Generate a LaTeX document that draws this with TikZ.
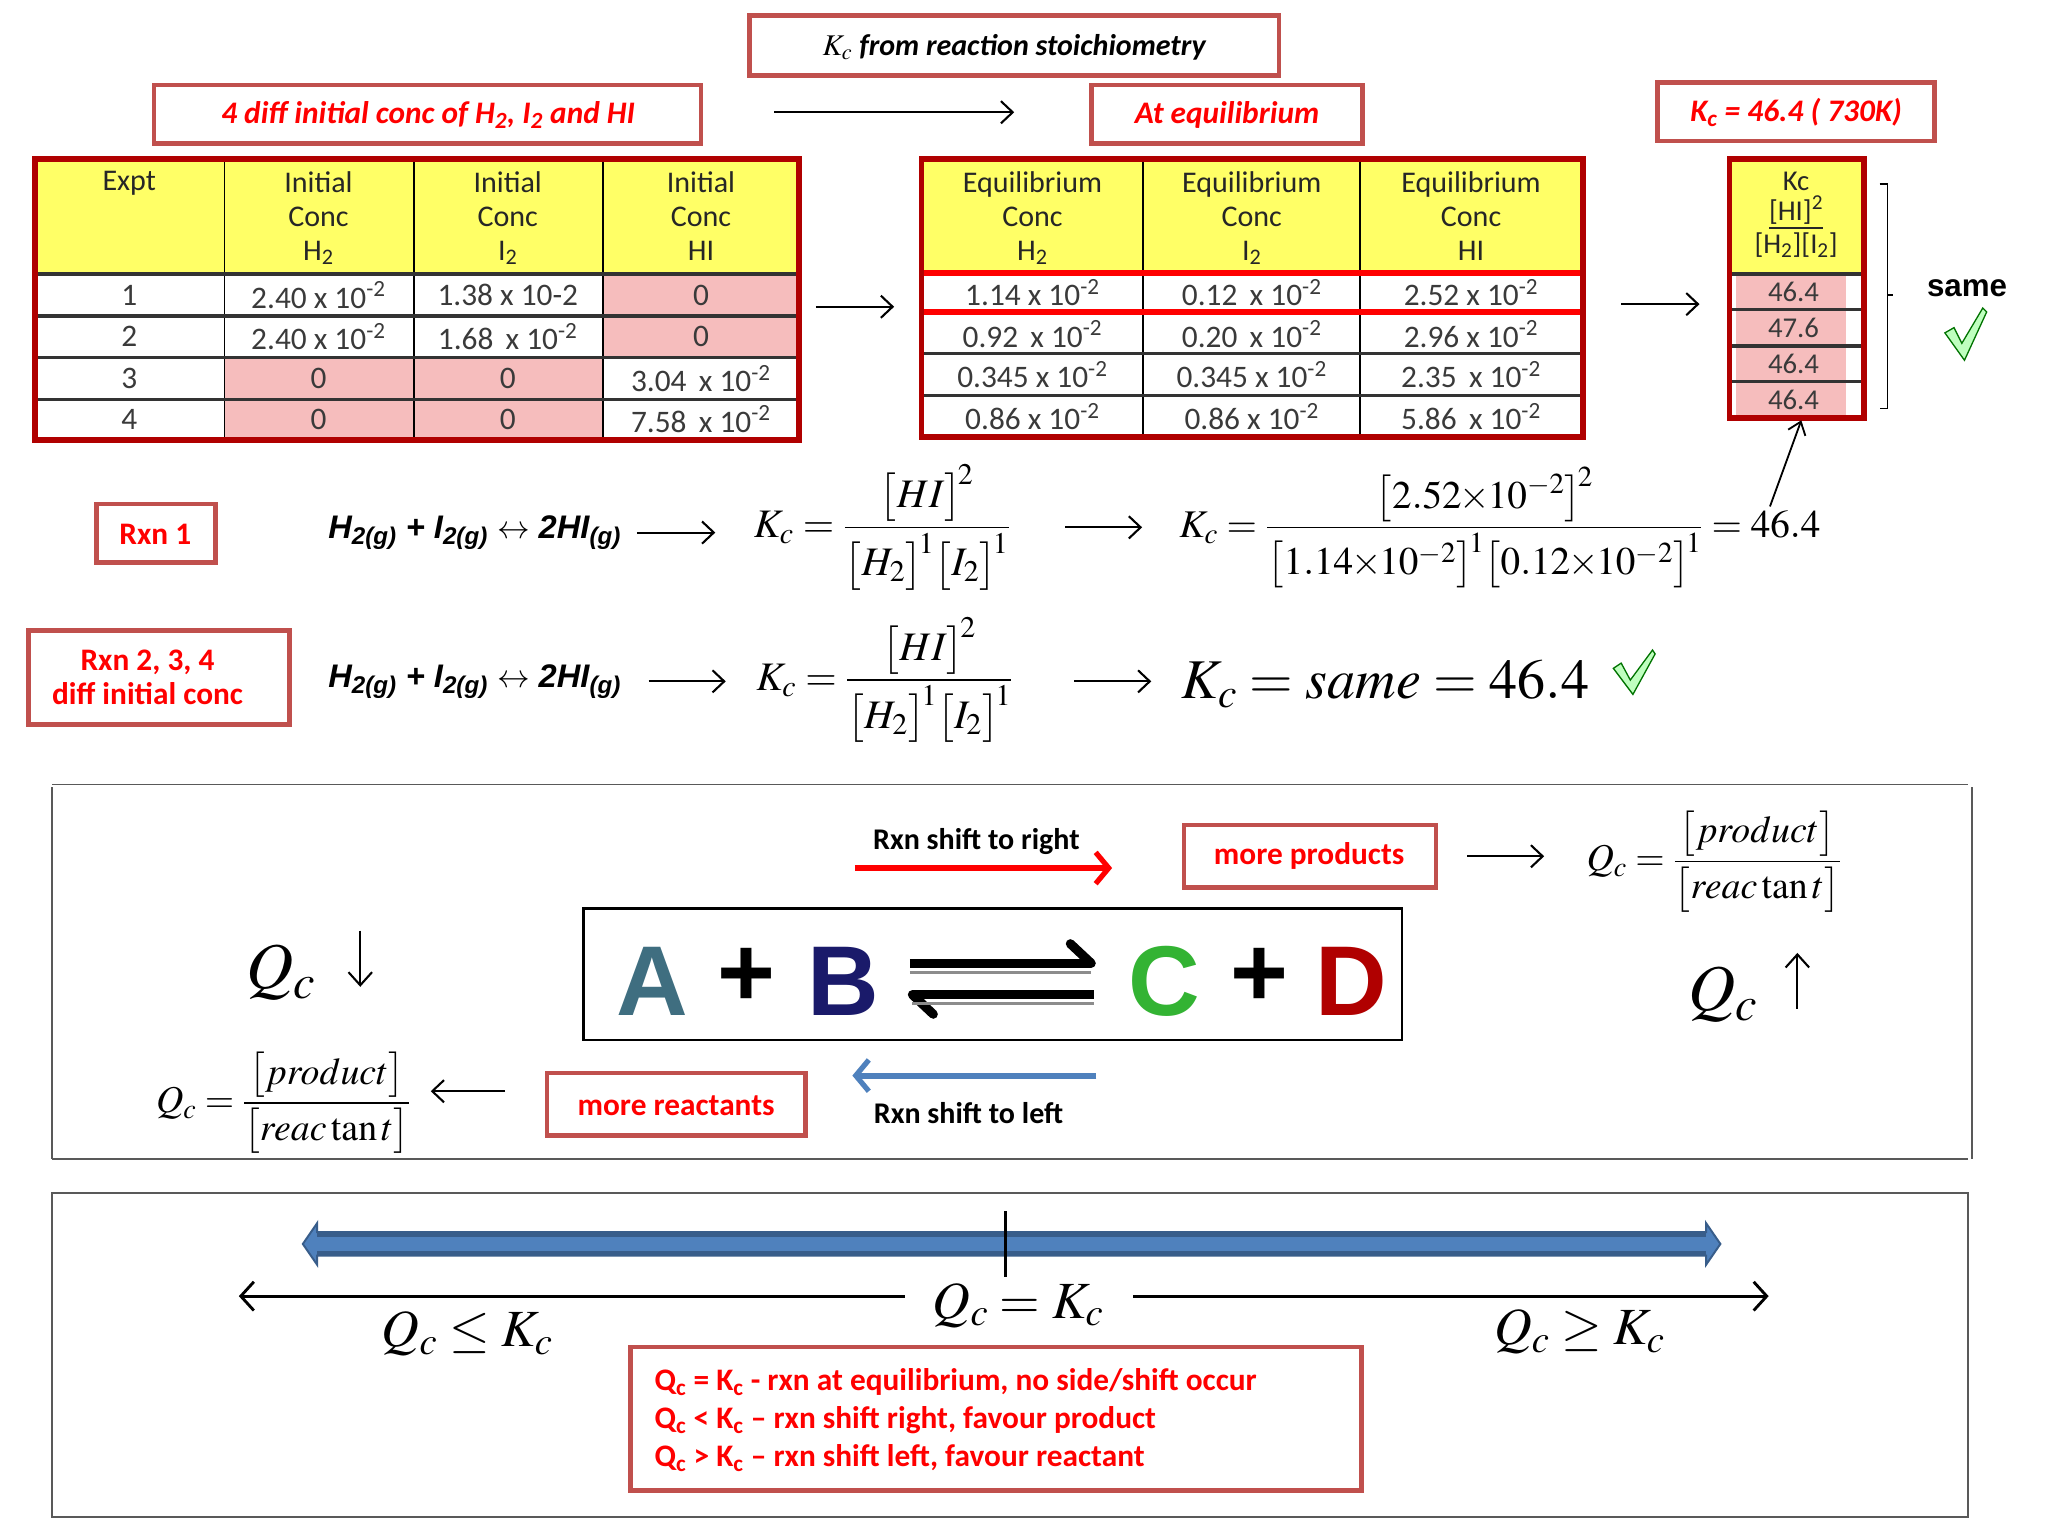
\documentclass[tikz,border=0pt]{standalone}
\usepackage{amsmath}
\usepackage{mathptmx}
\usepackage{fontspec}
\setmainfont{Liberation Serif}
\newfontfamily\cbri{Carlito}
\newfontfamily\ars{Liberation Sans}
\usetikzlibrary{arrows.meta}
\definecolor{boxred}{HTML}{C0504D}
\definecolor{tred}{HTML}{FF0000}
\definecolor{tabred}{HTML}{B00000}
\definecolor{hyel}{HTML}{FFFF66}
\definecolor{pink}{HTML}{F6BDBD}
\definecolor{cgray}{HTML}{3A3A3A}
\definecolor{blueA}{HTML}{4F81BD}
\definecolor{blueB}{HTML}{385D8A}
\newcommand\fs[1]{\fontsize{#1}{#1}\selectfont}
\newcommand\tenm[1]{#1 x 10\textsuperscript{-2}}
\newcommand\tx{\mkern-1mu{\times}\mkern-1mu}
\tikzset{
 redbox/.style={draw=boxred,line width=3.5pt,fill=white,inner sep=0pt},
 lab/.style={text=tred,font=\cbri\bfseries\fs{24}},
 cell/.style={text=cgray,font=\cbri\fs{24}},
 hcell/.style={text=black!85,font=\cbri\fs{23},align=center},
 arr/.style={line width=1.6pt,-{Straight Barb[length=9pt,width=17pt,line width=1.6pt]}},
 barr/.style={line width=2.2pt,-{Straight Barb[length=10pt,width=22pt,line width=2.2pt]}},
 mth/.style={font=\fs{31}},
 frame/.style={draw=black!65,line width=1.4pt},
 checkmk/.style={fill=green!25!white,draw=green!45!black,line width=1pt},
}
\begin{document}
\begin{tikzpicture}[x=1pt,y=-1pt]
\useasboundingbox (0,0) rectangle (1569,1177);
\fill[white] (0,0) rectangle (1569,1177);
% top labels
\draw[redbox] (574,12) rectangle (980,58);
\node (stoich) at (777,36) {\cbri\bfseries\itshape\fs{23}$K_c$ from reaction stoichiometry};
\draw[redbox] (118,65) rectangle (537,110);
\node[lab,font=\cbri\bfseries\itshape\fs{24}] (diff) at (328,88) {4 diff initial conc of H\textsubscript{2}, I\textsubscript{2} and HI};
\coordinate (a1s) at (593,86); \coordinate (a1e) at (777,86);
\draw[arr] (a1s) -- (a1e);
\draw[redbox] (836,65) rectangle (1044,110);
\node[lab,font=\cbri\bfseries\itshape\fs{24}] (ateq) at (940,88) {At equilibrium};
\draw[redbox] (1270,63) rectangle (1482,108);
\node[lab,font=\cbri\bfseries\itshape\fs{24}] (kc) at (1376,86) {K\textsubscript{c} = 46.4 ( 730K)};
% table 1
\fill[hyel] (27,122) rectangle (612,210);
\fill[pink] (462,210) rectangle (612,274);
\fill[pink] (172,274) rectangle (462,337);
\foreach \x in {172,317,462} \draw[line width=1.5pt] (\x,122) -- (\x,337);
\foreach \y in {210,242,274,306} \draw[line width=2.5pt,black!80] (27,\y) -- (612,\y);
\node[hcell,anchor=north] (t1h1) at (99,128) {Expt};
\node[hcell,anchor=north] (t1h2) at (244,128) {Initial\\[3pt]Conc\\[3pt]H\textsubscript{2}};
\node[hcell,anchor=north] (t1h3) at (389,128) {Initial\\[3pt]Conc\\[3pt]I\textsubscript{2}};
\node[hcell,anchor=north] (t1h4) at (537,128) {Initial\\[3pt]Conc\\[3pt]HI};
\foreach \r/\yy/\a/\b/\c/\d in {1/226/1/{\tenm{2.40}}/{1.38 x 10-2}/0, 2/258/2/{\tenm{2.40}}/{1.68\, x 10\textsuperscript{-2}}/0, 3/290/3/0/0/{3.04\, x 10\textsuperscript{-2}}, 4/321/4/0/0/{7.58\, x 10\textsuperscript{-2}}}{
 \node[cell] (t1-\r-1) at (99,\yy) {\a};
 \node[cell] (t1-\r-2) at (244,\yy) {\b};
 \node[cell] (t1-\r-3) at (389,\yy) {\c};
 \node[cell] (t1-\r-4) at (537,\yy) {\d};
}
\draw[tabred,line width=4.5pt] (27,122) rectangle (612,337);
\coordinate (a2s) at (625,235); \coordinate (a2e) at (685,235);
\draw[arr] (a2s) -- (a2e);
% table 2
\fill[hyel] (706,122) rectangle (1213,208);
\foreach \x in {876,1042} \draw[line width=1.5pt] (\x,122) -- (\x,335);
\foreach \y in {271,303} \draw[line width=2.5pt,black!80] (706,\y) -- (1213,\y);
\foreach \x/\s [count=\i] in {791/H\textsubscript{2},959/I\textsubscript{2},1127/HI}
 \node[hcell,anchor=north] (t2h\i) at (\x,128) {Equilibrium\\[3pt]Conc\\[3pt]\s};
\foreach \r/\yy/\a/\b/\c in {1/224/{\tenm{1.14}}/{0.12\, x 10\textsuperscript{-2}}/{\tenm{2.52}}, 2/256/{0.92\, x 10\textsuperscript{-2}}/{0.20\, x 10\textsuperscript{-2}}/{\tenm{2.96}}, 3/287/{\tenm{0.345}}/{\tenm{0.345}}/{2.35\, x 10\textsuperscript{-2}}, 4/319/{\tenm{0.86}}/{\tenm{0.86}}/{5.86\, x 10\textsuperscript{-2}}}{
 \node[cell] (t2-\r-1) at (791,\yy) {\a};
 \node[cell] (t2-\r-2) at (959,\yy) {\b};
 \node[cell] (t2-\r-3) at (1127,\yy) {\c};
}
\draw[tred,line width=5pt] (706,209) -- (1213,209);
\draw[tred,line width=5pt] (706,239) -- (1213,239);
\draw[tabred,line width=4.5pt] (706,122) rectangle (1213,335);
\coordinate (a3s) at (1242,233); \coordinate (a3e) at (1302,233);
\draw[arr] (a3s) -- (a3e);
% table 3
\fill[hyel] (1325,122) rectangle (1428,210);
\fill[pink] (1330,210) rectangle (1414,320);
\foreach \y in {210,237,265,292} \draw[line width=2.5pt,black!80] (1325,\y) -- (1428,\y);
\node[hcell,anchor=north,font=\cbri\fs{22}] (t3h) at (1376,128) {Kc\\[1pt]\underline{[HI]\textsuperscript{2}}\\[1pt][H\textsubscript{2}][I\textsubscript{2}]};
\foreach \v/\yy [count=\i] in {46.4/224,47.6/251,46.4/279,46.4/306}
 \node[cell,font=\cbri\fs{22}] (t3-\i) at (1374,\yy) {\v};
\draw[tabred,line width=4.5pt] (1325,122) rectangle (1428,320);
\draw[line width=1.2pt] (1440,141) -- (1446,141) -- (1446,313) -- (1440,313);
\draw[line width=1.2pt] (1446,226) -- (1450,226);
\node[font=\ars\bfseries\fs{24}] (same) at (1507,221) {same};
\draw[checkmk] (1490,255) -- (1497,251) -- (1503,263) -- (1519,236) -- (1522,239) -- (1505,276) -- cycle;
% Rxn 1
\draw[redbox] (74,386) rectangle (165,431);
\node[lab] (rxn1) at (119,409) {Rxn 1};
\node[font=\ars\bfseries\itshape\fs{25},anchor=west] (eq1) at (248,408) {H\textsubscript{2(g)} + I\textsubscript{2(g)} {\normalfont\mdseries$\leftrightarrow$} 2HI\textsubscript{(g)}};
\coordinate (a4s) at (488,408); \coordinate (a4e) at (548,408);
\draw[arr] (a4s) -- (a4e);
\node[mth,anchor=west] (kc1) at (574,404) {$K_c=\dfrac{\bigl[HI\bigr]^{\!2}}{\bigl[H_2\bigr]^{\!1}\bigl[I_2\bigr]^{\!1}}$};
\coordinate (a5s) at (816,404); \coordinate (a5e) at (875,404);
\draw[arr] (a5s) -- (a5e);
\node[mth,anchor=west,font=\fs{30}] (kcn) at (900,404) {$K_c=\dfrac{\bigl[2.52\tx10^{-2}\bigr]^{\!2}}{\bigl[1.14\tx10^{-2}\bigr]^{\!1}\bigl[0.12\tx10^{-2}\bigr]^{\!1}}=46.4$};
\coordinate (a6s) at (1356,388); \coordinate (a6e) at (1380,322);
\draw[line width=1.4pt,-{Straight Barb[length=9pt,width=14pt,line width=1.4pt]}] (a6s) -- (a6e);
% Rxn 2,3,4
\draw[redbox] (22,483) rectangle (222,555);
\node[lab,align=center] (rxn2) at (113,519) {Rxn 2, 3, 4\\[2pt]diff initial conc};
\node[font=\ars\bfseries\itshape\fs{25},anchor=west] (eq2) at (248,522) {H\textsubscript{2(g)} + I\textsubscript{2(g)} {\normalfont\mdseries$\leftrightarrow$} 2HI\textsubscript{(g)}};
\coordinate (a7s) at (497,522); \coordinate (a7e) at (556,522);
\draw[arr] (a7s) -- (a7e);
\node[mth,anchor=west] (kc2) at (576,521) {$K_c=\dfrac{\bigl[HI\bigr]^{\!2}}{\bigl[H_2\bigr]^{\!1}\bigl[I_2\bigr]^{\!1}}$};
\coordinate (a8s) at (823,522); \coordinate (a8e) at (882,522);
\draw[arr] (a8s) -- (a8e);
\node[font=\fs{43},anchor=west] (kcs) at (902,524) {$K_c=same=46.4$};
\draw[checkmk] (1236,512) -- (1242,508) -- (1249,521) -- (1266,498) -- (1268,501) -- (1251,532) -- cycle;
% middle frame
\draw[frame] (40,601) -- (1508,601);
\draw[frame] (40,888) -- (1508,888);
\draw[frame] (40,603) -- (40,888);
\draw[frame] (1511,603) -- (1511,888);
\node[font=\cbri\bfseries\fs{23}] (shr) at (748,645) {Rxn shift to right};
\coordinate (rs) at (655,665); \coordinate (re) at (852,665);
\draw[tred,line width=4.5pt,-{Straight Barb[length=10pt,width=24pt,line width=4pt]}] (rs) -- (re);
\draw[redbox] (907,632) rectangle (1100,680);
\node[lab] (mp) at (1003,656) {more products};
\coordinate (a9s) at (1124,656); \coordinate (a9e) at (1183,656);
\draw[arr] (a9s) -- (a9e);
\node[font=\fs{29},anchor=west] (qc1) at (1212,660) {$Q_c=\dfrac{\bigl[product\bigr]}{\bigl[reac\tan t\bigr]}$};
\draw[line width=1.8pt] (447,696) rectangle (1074,797);
\node[font=\ars\bfseries\fs{76},text={rgb,255:red,63;green,110;blue,128}] (lA) at (500,752) {A};
\node[font=\ars\bfseries\fs{76}] (lp1) at (572,749) {+};
\node[font=\ars\bfseries\fs{76},text={rgb,255:red,26;green,26;blue,106}] (lB) at (646,752) {B};
\node[font=\ars\bfseries\fs{76},text={rgb,255:red,51;green,179;blue,51}] (lC) at (892,752) {C};
\node[font=\ars\bfseries\fs{76}] (lp2) at (965,749) {+};
\node[font=\ars\bfseries\fs{76},text=tabred] (lD) at (1035,752) {D};
\draw[line width=7pt,black] (697,738) -- (836,738);
\draw[line width=7pt,line cap=round,black] (836,738) -- (820,723);
\draw[line width=7pt,black] (699,762) -- (838,762);
\draw[line width=7pt,line cap=round,black] (699,762) -- (715,777);
\draw[line width=2pt,black!45] (697,745) -- (836,745);
\draw[line width=2pt,black!45] (699,769) -- (838,769);
\node[font=\fs{50}] (qdn) at (215,745) {$Q_c$};
\coordinate (d1) at (276,713); \coordinate (d2) at (276,756);
\draw[line width=1.6pt,-{Straight Barb[length=10pt,width=18pt,line width=1.6pt]}] (d1) -- (d2);
\node[font=\fs{50}] (qup) at (1320,762) {$Q_c$};
\coordinate (u1) at (1377,773); \coordinate (u2) at (1377,730);
\draw[line width=1.6pt,-{Straight Barb[length=10pt,width=18pt,line width=1.6pt]}] (u1) -- (u2);
\node[font=\fs{29},anchor=west] (qc2) at (116,845) {$Q_c=\dfrac{\bigl[product\bigr]}{\bigl[reac\tan t\bigr]}$};
\coordinate (a10s) at (387,836); \coordinate (a10e) at (330,836);
\draw[arr] (a10s) -- (a10e);
\draw[redbox] (419,822) rectangle (617,870);
\node[lab] (mr) at (518,847) {more reactants};
\coordinate (ls) at (840,824); \coordinate (le) at (653,824);
\draw[blueA,line width=4.5pt,-{Straight Barb[length=10pt,width=24pt,line width=4pt]}] (ls) -- (le);
\node[font=\cbri\bfseries\fs{23}] (shl) at (742,853) {Rxn shift to left};
% bottom frame
\draw[frame] (40,914) rectangle (1508,1162);
\draw[fill=blueA,draw=blueB,line width=1.5pt] (232,953) -- (243,937) -- (243,944) -- (1307,944) -- (1307,937) -- (1318,953) -- (1307,969) -- (1307,962) -- (243,962) -- (243,969) -- cycle;
\draw[blueB,line width=3pt] (243,946) -- (1307,946);
\draw[blueB,line width=3pt] (243,960) -- (1307,960);
\coordinate (tk1) at (770,928); \coordinate (tk2) at (770,978);
\draw[line width=2.2pt] (tk1) -- (tk2);
\node[font=\fs{40}] (qeq) at (780,1000) {$Q_c=K_c$};
\coordinate (bl) at (183,993); \coordinate (br) at (1355,993);
\coordinate (bls) at (693,993); \coordinate (brs) at (868,993);
\draw[barr] (bls) -- (bl);
\draw[barr] (brs) -- (br);
\node[font=\fs{40}] (qle) at (358,1022) {$Q_c\le K_c$};
\node[font=\fs{40}] (qge) at (1210,1020) {$Q_c\ge K_c$};
\draw[redbox] (483,1032) rectangle (1043,1142);
\node[lab,align=left,anchor=west] (rules) at (498,1088) {Q\textsubscript{c} = K\textsubscript{c} - rxn at equilibrium, no side/shift occur\\[5pt]Q\textsubscript{c} < K\textsubscript{c} – rxn shift right, favour product\\[5pt]Q\textsubscript{c} > K\textsubscript{c} – rxn shift left, favour reactant};
\end{tikzpicture}
\end{document}
